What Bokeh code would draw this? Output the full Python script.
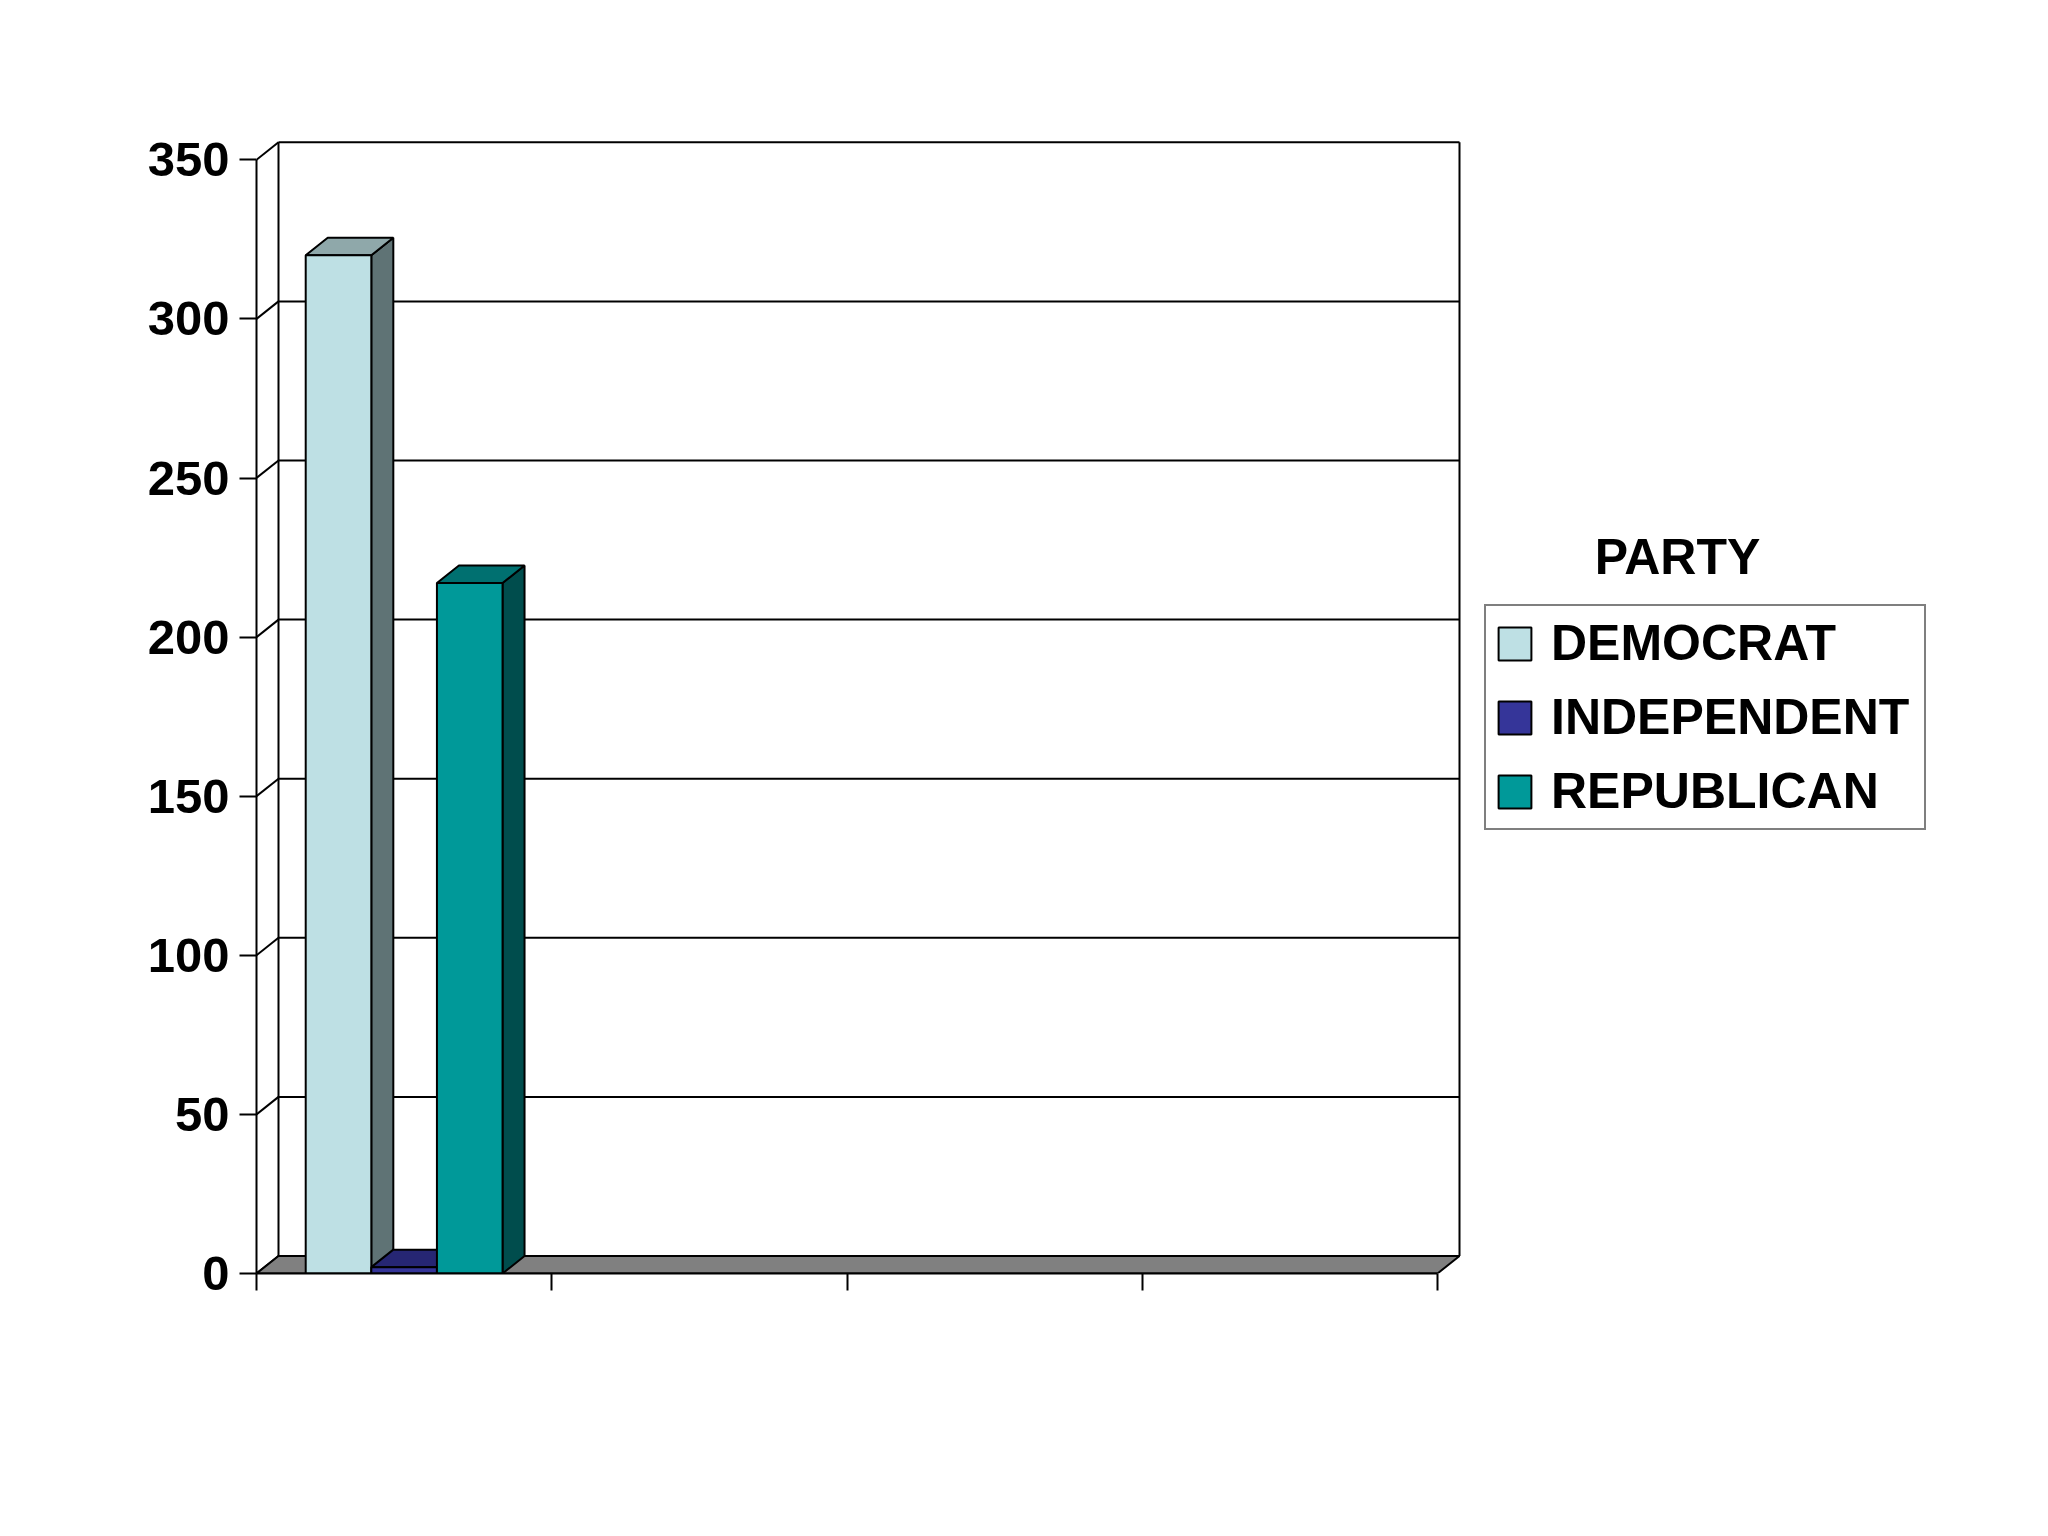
from bokeh.plotting import figure
from bokeh.models import Range1d, FixedTicker, Legend, LegendItem, Label, ColumnDataSource
from bokeh.embed import file_html
from bokeh.resources import INLINE

# ---- data ----
parties = ["DEMOCRAT", "INDEPENDENT", "REPUBLICAN"]
counts = [320, 2, 217]
front_colors = ["#BEE0E4", "#353599", "#009999"]
top_colors = ["#8FA8AA", "#262673", "#007070"]
side_colors = ["#5F7375", "#1C1C55", "#004D4D"]
y_ticks = [0, 50, 100, 150, 200, 250, 300, 350]
n_slots = 4
legend_title = "PARTY"

# ---- layout constants (pixels) ----
W, H = 2032, 1520
BORDER_L, BORDER_B, BORDER_T, BORDER_R = 256, 247, 12, 0
PX_X = 295.25   # pixels per category slot
PX_Y = 3.182    # pixels per unit
frame_w = W - BORDER_L - BORDER_R
frame_h = H - BORDER_T - BORDER_B
DX = 22 / PX_X   # depth offset in x units
DY = 17.5 / PX_Y   # depth offset in y units
FONT = "Liberation Sans"

p = figure(width=W, height=H, output_backend="svg", toolbar_location=None,
           x_range=Range1d(0, frame_w / PX_X), y_range=Range1d(0, frame_h / PX_Y),
           min_border_left=BORDER_L, min_border_bottom=BORDER_B,
           min_border_top=BORDER_T, min_border_right=BORDER_R)
p.outline_line_color = None
p.grid.visible = False
p.background_fill_color = "white"
p.border_fill_color = "white"

ymax = y_ticks[-1]

# back wall gridlines and connecting diagonals
p.multi_line(xs=[[DX, n_slots + DX] for v in y_ticks],
             ys=[[v + DY, v + DY] for v in y_ticks], line_color="black", line_width=2)
p.multi_line(xs=[[0, DX] for v in y_ticks],
             ys=[[v, v + DY] for v in y_ticks], line_color="black", line_width=2)
p.multi_line(xs=[[DX, DX], [n_slots + DX, n_slots + DX]],
             ys=[[DY, ymax + DY], [DY, ymax + DY]], line_color="black", line_width=2)

# floor
p.patch([0, n_slots, n_slots + DX, DX], [0, 0, DY, DY],
        fill_color="#808080", line_color="black", line_width=2)

# bars
group = 2 / 3
bw = group / len(parties)
start = 0.5 - group / 2
lefts = [start + i * bw for i in range(len(parties))]
rights = [l + bw for l in lefts]

items = []
for i, party in enumerate(parties):
    l, r, v = lefts[i], rights[i], counts[i]
    p.patch([r, r + DX, r + DX, r], [0, DY, v + DY, v],
            fill_color=side_colors[i], line_color="black", line_width=2)
    p.patch([l, r, r + DX, l + DX], [v, v, v + DY, v + DY],
            fill_color=top_colors[i], line_color="black", line_width=2)
    src = ColumnDataSource(dict(left=[l], right=[r], top=[v], bottom=[0]))
    fr = p.quad(left="left", right="right", top="top", bottom="bottom", source=src,
                fill_color=front_colors[i], line_color="black", line_width=2)
    items.append(LegendItem(label=party, renderers=[fr]))

# axes
ya = p.yaxis[0]
ya.ticker = FixedTicker(ticks=y_ticks)
ya.bounds = (0, ymax)
ya.major_tick_out = 17
ya.major_tick_in = 0
ya.minor_tick_line_color = None
ya.axis_line_width = 2
ya.major_tick_line_width = 2
ya.axis_line_color = "black"
ya.major_tick_line_color = "black"
ya.major_label_standoff = 10
ya.major_label_text_font = FONT
ya.major_label_text_font_style = "bold"
ya.major_label_text_font_size = "49px"
ya.major_label_text_color = "black"

xa = p.xaxis[0]
xa.ticker = FixedTicker(ticks=list(range(n_slots + 1)))
xa.bounds = (0, n_slots)
xa.major_tick_out = 17
xa.major_tick_in = 0
xa.minor_tick_line_color = None
xa.axis_line_width = 2
xa.major_tick_line_width = 2
xa.axis_line_color = "black"
xa.major_tick_line_color = "black"
xa.major_label_text_color = None

# legend (box: x 1484-1924, y ~605-830 in page pixels)
legend = Legend(items=items, location=(1484 - BORDER_L, (H - BORDER_B) - 830),
                border_line_color="black", border_line_width=2,
                background_fill_color="white", background_fill_alpha=1,
                label_text_font=FONT, label_text_font_style="bold",
                label_text_font_size="50px", label_text_color="black",
                glyph_width=41, glyph_height=41, label_standoff=16,
                label_height=57, label_width=365, spacing=16, padding=8, margin=0)
p.add_layout(legend)

p.add_layout(Label(x=(1677 - BORDER_L) / PX_X, y=((H - BORDER_B) - 556) / PX_Y, text=legend_title,
                   text_align="center", text_baseline="middle",
                   text_font=FONT, text_font_style="bold", text_font_size="50px",
                   text_color="black"))

open("out.html", "w").write(file_html(p, INLINE))
